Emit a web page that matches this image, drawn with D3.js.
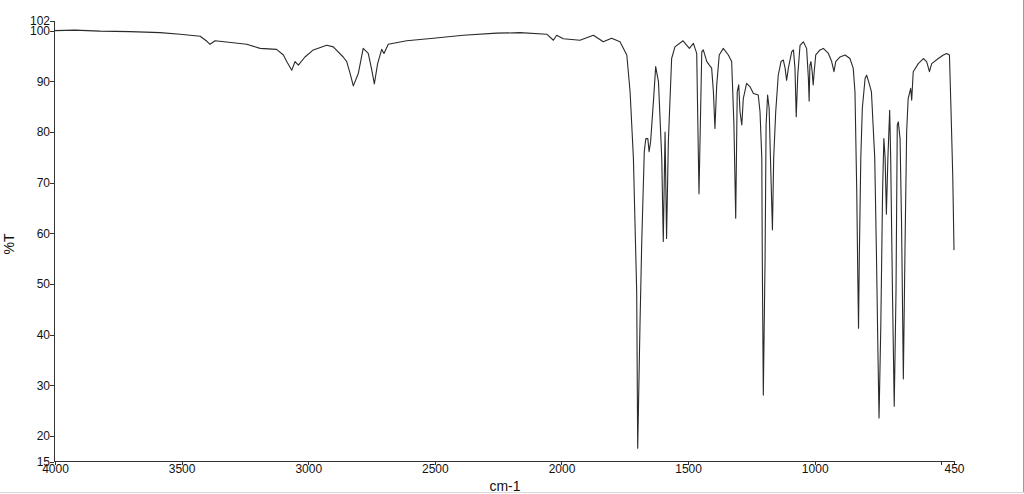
<!DOCTYPE html>
<html>
<head>
<meta charset="utf-8">
<script src="https://cdn.jsdelivr.net/npm/d3@7"></script>
<style>
  html, body { margin: 0; padding: 0; background: #fff; }
  svg { display: block; }
  text { font-family: "Liberation Sans", Arial, sans-serif; }
</style>
</head>
<body>
<svg id="chart" width="1024" height="494"></svg>
<script>
// Wavenumbers (cm-1) and transmittance (%T)
const wavenumbers = [4000,3921,3822,3704,3585,3506,3427,3400,3388,3368,3243,3190,3125,3098,3085,3065,3052,3039,3013,2980,2927,2901,2862,2848,2835,2822,2802,2783,2763,2749,2739,2726,2710,2701,2684,2611,2506,2388,2256,2164,2058,2032,2019,1993,1927,1874,1835,1802,1769,1742,1729,1716,1703,1699,1690,1683,1673,1667,1659,1654,1648,1637,1628,1617,1604,1598,1591,1585,1578,1565,1552,1520,1495,1479,1466,1457,1446,1440,1426,1416,1407,1400,1394,1387,1377,1361,1341,1328,1319,1312,1306,1300,1295,1288,1282,1269,1255,1242,1223,1216,1209,1207,1203,1196,1192,1186,1180,1173,1167,1162,1154,1144,1133,1124,1117,1111,1104,1091,1084,1078,1073,1067,1058,1045,1032,1025,1022,1019,1015,1010,1006,1002,996,979,966,946,933,924,917,900,880,861,848,841,834,830,827,824,818,812,801,795,785,776,763,756,750,746,739,732,727,722,717,711,704,700,693,686,679,674,670,663,657,650,644,637,631,621,617,611,591,571,558,547,538,512,492,479,468,462,455,450];
const transmittance = [100.0,100.1,99.9,99.8,99.6,99.3,98.9,97.9,97.3,98.0,97.3,96.5,96.3,95.2,93.9,92.2,93.9,93.2,94.8,96.2,97.1,96.8,94.8,93.9,91.6,89.1,91.6,96.5,95.5,92.2,89.5,93.5,96.3,95.5,97.3,98.0,98.5,99.1,99.5,99.6,99.3,98.1,99.1,98.4,98.1,99.1,97.8,98.5,97.8,95.2,87.9,74.9,48.5,17.6,41.9,58.4,76.1,78.7,78.7,76.1,78.1,86.0,92.9,89.9,74.8,58.4,80.0,59.0,78.1,94.5,96.8,98.0,96.5,97.5,95.5,67.8,95.8,96.2,93.9,93.2,92.6,87.9,80.7,89.3,95.2,96.5,95.2,93.9,81.4,63.0,87.9,89.3,84.0,81.4,86.6,89.6,88.9,87.6,87.3,84.0,74.9,55.1,28.1,55.1,81.4,87.3,84.7,71.5,60.7,74.9,84.0,91.2,93.9,94.2,92.6,90.2,92.6,95.8,96.2,92.6,83.0,91.2,97.1,97.8,96.5,90.6,86.1,93.2,93.9,91.9,89.3,91.9,95.2,96.2,96.5,95.5,93.9,91.9,93.9,94.8,95.2,94.5,92.6,87.9,68.2,51.8,41.3,55.1,74.9,84.7,90.6,91.2,89.6,87.9,74.9,55.1,35.4,23.6,41.9,68.2,78.7,74.9,63.8,74.9,84.3,74.9,48.5,25.9,48.5,81.4,82.0,78.7,61.6,31.3,55.1,80.0,86.6,88.6,86.3,91.9,93.5,94.5,93.9,91.9,93.5,94.5,95.2,95.5,95.2,84.7,71.5,56.7];

const xTicks = [4000,3500,3000,2500,2000,1500,1000,500,450];
const xTickLabels = ["4000","3500","3000","2500","2000","1500","1000","","450"];
const yTicks = [15,20,30,40,50,60,70,80,90,100,102];
const yTickLabels = ["15","20","30","40","50","60","70","80","90","100","102"];
const xTitle = "cm-1";
const yTitle = "%T";

const svg = d3.select("#chart");

// border of the picture frame
svg.append("line").attr("x1",1023.5).attr("x2",1023.5).attr("y1",0).attr("y2",492)
  .attr("stroke","#9a9a9a").attr("stroke-width",1);
svg.append("line").attr("x1",0).attr("x2",1024).attr("y1",492.5).attr("y2",492.5)
  .attr("stroke","#d8d8d8").attr("stroke-width",1);

const x = d3.scaleLinear().domain([4000,450]).range([55,954]);
const y = d3.scaleLinear().domain([15,102]).range([461.5,20.5]);

const xAxis = d3.axisBottom(x).tickValues(xTicks).tickSize(4).tickSizeOuter(0)
  .tickFormat((d,i) => xTickLabels[xTicks.indexOf(d)]);
const yAxis = d3.axisLeft(y).tickValues(yTicks).tickSize(4).tickSizeOuter(0)
  .tickFormat(d => yTickLabels[yTicks.indexOf(d)]);

const gx = svg.append("g").attr("transform","translate(0,461)").call(xAxis);
const gy = svg.append("g").attr("transform","translate(54,0)").call(yAxis);

[gx, gy].forEach(g => {
  g.select(".domain").attr("stroke","#333").attr("shape-rendering","crispEdges");
  g.selectAll(".tick line").attr("stroke","#333").attr("shape-rendering","crispEdges");
  g.selectAll(".tick text").attr("fill","#111").style("font-size","12px")
    .style("font-family","'Liberation Sans', Arial, sans-serif");
});
gx.selectAll(".tick text").attr("dy","0.6em").attr("y",5);
gy.selectAll(".tick text").attr("x",-4);

// axis titles
svg.append("text").attr("x",505).attr("y",491).attr("text-anchor","middle")
  .style("font-size","14px").attr("fill","#111").text(xTitle);
svg.append("text").attr("transform","translate(14,244) rotate(-90)")
  .attr("text-anchor","middle").style("font-size","14px").attr("fill","#111").text(yTitle);

// spectrum line
const data = wavenumbers.map((w,i) => ({w, t: transmittance[i]}));
const line = d3.line().x(d => x(d.w)).y(d => y(d.t));
svg.append("path").datum(data).attr("d", line)
  .attr("fill","none").attr("stroke","#2a2a2a").attr("stroke-width",1.1)
  .attr("stroke-linejoin","round");
</script>
</body>
</html>
